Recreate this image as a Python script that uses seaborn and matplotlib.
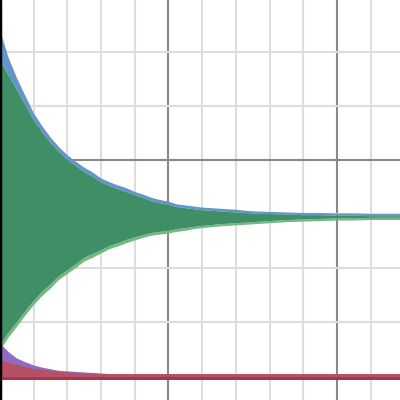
import matplotlib
matplotlib.use("Agg")
import matplotlib.pyplot as plt
import seaborn as sns

# sample positions
x = [0, 0.25, 0.5, 0.75, 1, 1.25, 1.5, 1.75, 2, 2.25, 2.5, 2.75, 3, 3.25, 3.5, 3.75,
     4, 4.25, 4.5, 4.75, 5, 5.25, 5.5, 5.75, 6, 6.5, 7, 7.5, 8, 8.5, 9, 9.5,
     10, 10.5, 11, 11.5, 12]

# upper / lower envelope of the damped series
upper = [1.85, 1.57, 1.30, 1.02, 0.74, 0.52, 0.32, 0.15, 0.0, -0.11, -0.22, -0.31,
         -0.41, -0.48, -0.54, -0.59, -0.65, -0.70, -0.76, -0.80, -0.83, -0.87, -0.89,
         -0.91, -0.93, -0.95, -0.97, -0.99, -1.00, -1.01, -1.02, -1.02, -1.03, -1.03,
         -1.04, -1.04, -1.04]
lower = [-3.43, -3.20, -3.00, -2.80, -2.61, -2.44, -2.30, -2.15, -2.04, -1.93, -1.81,
         -1.74, -1.67, -1.59, -1.54, -1.48, -1.43, -1.39, -1.35, -1.33, -1.31, -1.28,
         -1.26, -1.24, -1.22, -1.19, -1.17, -1.15, -1.13, -1.11, -1.10, -1.09, -1.08,
         -1.08, -1.07, -1.07, -1.07]
blue_extra = [0.56, 0.33, 0.22, 0.17, 0.13, 0.11, 0.10, 0.09, 0.09, 0.08, 0.08, 0.08,
              0.07, 0.07, 0.07, 0.07, 0.06, 0.06, 0.06, 0.06, 0.06, 0.05, 0.05, 0.05,
              0.05, 0.05, 0.05, 0.04, 0.04, 0.04, 0.04, 0.04, 0.04, 0.04, 0.04, 0.04, 0.04]
light_extra = [0.10, 0.09, 0.09, 0.08, 0.08, 0.08, 0.08, 0.07, 0.07, 0.07, 0.07, 0.07,
               0.06, 0.06, 0.06, 0.06, 0.06, 0.05, 0.05, 0.05, 0.05, 0.05, 0.05, 0.04,
               0.04, 0.04, 0.04, 0.04, 0.04, 0.04, 0.04, 0.04, 0.04, 0.04, 0.04, 0.04, 0.04]

# small series near the bottom
purple_top = [-3.39, -3.55, -3.67, -3.74, -3.80, -3.84, -3.87, -3.90, -3.91, -3.92,
              -3.93, -3.94, -3.95, -3.96, -3.96, -3.96, -3.96, -3.96, -3.96, -3.96,
              -3.96, -3.96, -3.96, -3.96, -3.96, -3.96, -3.96, -3.96, -3.96, -3.96,
              -3.96, -3.96, -3.96, -3.96, -3.96, -3.96, -3.96]
red_top = [-3.70, -3.75, -3.79, -3.83, -3.86, -3.88, -3.90, -3.92, -3.93, -3.94,
           -3.95, -3.95, -3.96, -3.96, -3.96, -3.96, -3.96, -3.96, -3.96, -3.96,
           -3.96, -3.96, -3.96, -3.96, -3.96, -3.96, -3.96, -3.96, -3.96, -3.96,
           -3.96, -3.96, -3.96, -3.96, -3.96, -3.96, -3.96]
red_bottom = -4.07

sns.set_style("white")
fig, ax = plt.subplots(figsize=(4, 4), dpi=100)
fig.subplots_adjust(0, 0, 1, 1)

for v in range(1, 12):
    ax.axvline(v, color="#888888" if v % 5 == 0 else "#dddddd", lw=1.5, zorder=0)
for v in range(-4, 3):
    ax.axhline(v, color="#888888" if v == 0 else "#dddddd", lw=1.5, zorder=0)
ax.axvline(0, color="black", lw=2.5, zorder=5)

blue_top = [u + d for u, d in zip(upper, blue_extra)]
light_bot = [l - d for l, d in zip(lower, light_extra)]
ax.fill_between(x, upper, blue_top, color="#6395cb", lw=0, zorder=2)
ax.fill_between(x, light_bot, lower, color="#72b97f", lw=0, zorder=2)
ax.fill_between(x, lower, upper, color="#3f8e66", lw=0, zorder=3)

ax.fill_between(x, red_bottom, purple_top, color="#8e6cc0", lw=0, zorder=3)
ax.fill_between(x, red_bottom, red_top, color="#b84f64", lw=0, zorder=4)
ax.axhspan(red_bottom, red_bottom + 0.06, color="#9c3a50", lw=0, zorder=4)

ax.set_xlim(0, 11.87)
ax.set_ylim(-4.44, 2.96)
ax.set_xticks([])
ax.set_yticks([])
for s in ax.spines.values():
    s.set_visible(False)

fig.savefig("out.png", dpi=100)
